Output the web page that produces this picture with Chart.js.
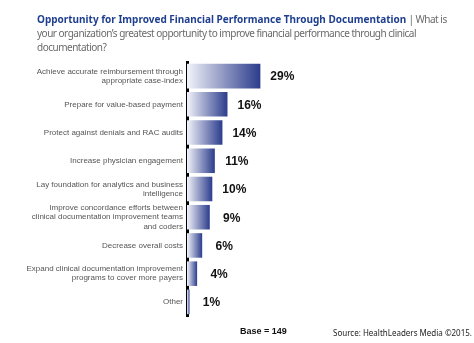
<!DOCTYPE html>
<html>
<head>
<meta charset="utf-8">
<script src="https://cdn.jsdelivr.net/npm/chart.js@4.4.0/dist/chart.umd.min.js"></script>
<style>
  html, body { margin: 0; padding: 0; background: #fff; }
  #wrap { position: relative; width: 474px; height: 343px; overflow: hidden; }
  #chart { position: absolute; left: 0; top: 0; }
  .head { position: absolute; left: 37px; top: 12px; font-family: "Noto Sans", sans-serif; font-size: 10px; line-height: 14px; color: #6a6a6a; white-space: nowrap; letter-spacing: -0.5px; }
  .head b { color: #1f3f8f; letter-spacing: 0; }
  .base { position: absolute; left: 240px; top: 326px; font-family: "Liberation Sans", Arial, sans-serif; font-weight: bold; font-size: 9px; color: #111; }
  .src { position: absolute; left: 333px; top: 327px; font-family: "Noto Sans", sans-serif; font-size: 8px; color: #222; }
</style>
</head>
<body>
<div id="wrap">
  <canvas id="chart" width="474" height="343"></canvas>
  <div class="head"><b>Opportunity for Improved Financial Performance Through Documentation</b> | What is<br>your organization’s greatest opportunity to improve financial performance through clinical<br>documentation?</div>
  <div class="base">Base = 149</div>
  <div class="src">Source: HealthLeaders Media ©2015.</div>
</div>
<script>
// categorias (rotulos com quebra de linha)
const categorias = [
    ['Achieve accurate reimbursement through', 'appropriate case-index'],
    'Prepare for value-based payment',
    'Protect against denials and RAC audits',
    'Increase physician engagement',
    ['Lay foundation for analytics and business', 'intelligence'],
    ['Improve concordance efforts between', 'clinical documentation improvement teams', 'and coders'],
    'Decrease overall costs',
    ['Expand clinical documentation improvement', 'programs to cover more payers'],
    'Other'
];
const valores = [29, 16, 14, 11, 10, 9, 6, 4, 1];
const rotulosValores = ['29%', '16%', '14%', '11%', '10%', '9%', '6%', '4%', '1%'];

// gradiente por barra: claro a esquerda, azul escuro a direita
const corBarra = (ctx) => {
    const chart = ctx.chart;
    const x = chart.scales.x;
    if (!chart.chartArea || !x || ctx.dataIndex === undefined) return '#3a4a95';
    const v = valores[ctx.dataIndex];
    const x0 = x.getPixelForValue(0);
    const x1 = x.getPixelForValue(v);
    const g = chart.ctx.createLinearGradient(x0, 0, x1, 0);
    g.addColorStop(0, '#f2f3f9');
    g.addColorStop(1, '#2b3c8c');
    return g;
};

const rotuloPlugin = {
    id: 'rotulos',
    afterDatasetsDraw(chart) {
        const ctx = chart.ctx;
        const meta = chart.getDatasetMeta(0);
        ctx.save();
        ctx.font = 'bold 12px "Liberation Sans", Arial, sans-serif';
        ctx.fillStyle = '#111';
        ctx.textAlign = 'center';
        ctx.textBaseline = 'middle';
        meta.data.forEach((bar, i) => {
            ctx.fillText(rotulosValores[i], bar.x + 22, bar.y + 1);
        });
        ctx.restore();
    }
};

new Chart(document.getElementById('chart'), {
    type: 'bar',
    data: {
        labels: categorias,
        datasets: [{
            data: valores,
            backgroundColor: corBarra,
            borderWidth: 0,
            barPercentage: 0.87,
            categoryPercentage: 1
        }]
    },
    options: {
        indexAxis: 'y',
        responsive: false,
        animation: false,
        layout: { padding: { top: 62, bottom: 27, left: 0, right: 34 } },
        plugins: { legend: { display: false }, tooltip: { enabled: false } },
        scales: {
            x: { display: false, min: 0, max: 100 },
            y: {
                afterFit: (s) => { s.width = 187; },
                grid: { display: false, drawTicks: false },
                border: { display: true, color: '#000', width: 3 },
                ticks: {
                    autoSkip: false,
                    padding: 4,
                    color: '#555',
                    font: { family: '"Liberation Sans", Arial, sans-serif', size: 8, lineHeight: 1.15 }
                }
            }
        }
    },
    plugins: [rotuloPlugin]
});
</script>
</body>
</html>
